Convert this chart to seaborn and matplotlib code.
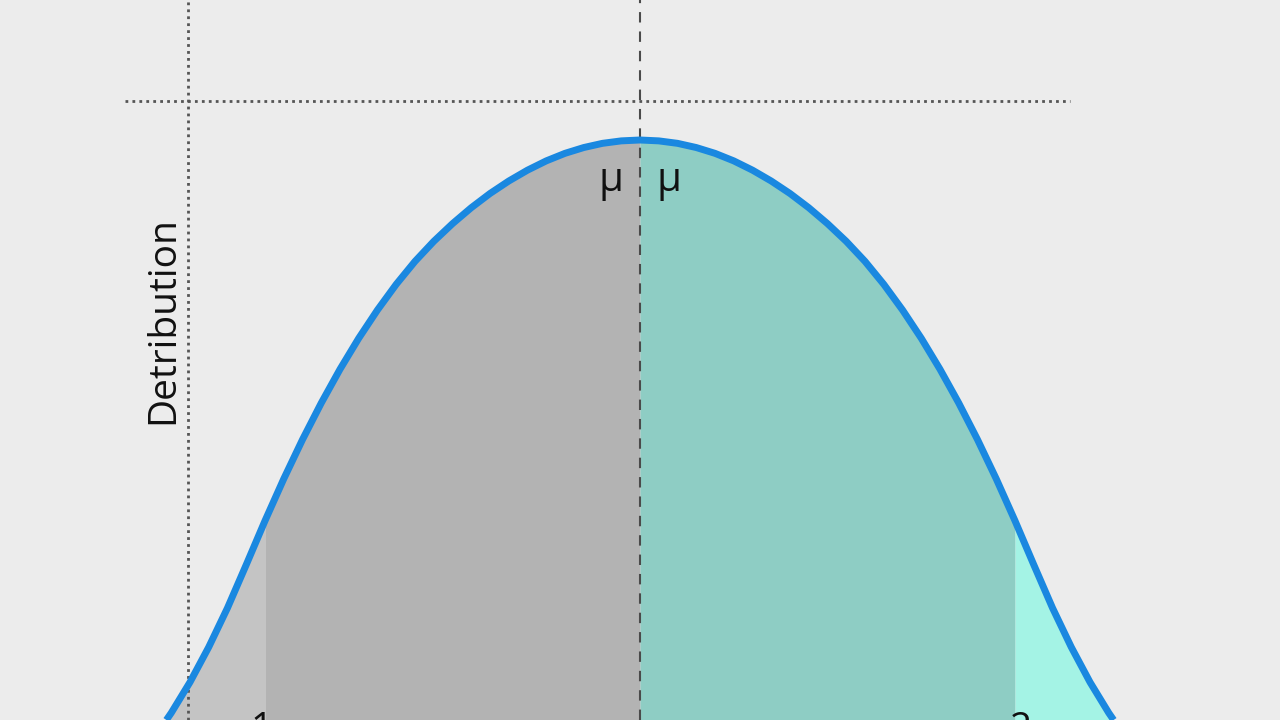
# -*- coding: utf-8 -*-
# bell curve with shaded tails, redrawn with seaborn

import matplotlib
matplotlib.use("Agg")
import matplotlib.pyplot as plt
import seaborn as sns
import numpy as np
import pandas as pd


# %% data
# ----------------------------
# half profile of the (symmetric) curve: distance from the mean in sigma
# units and the height of the curve there

offset = [0.00, 0.05, 0.10, 0.15, 0.20, 0.25, 0.30, 0.35, 0.40, 0.45,
          0.50, 0.55, 0.60, 0.65, 0.70, 0.75, 0.80, 0.85, 0.90, 0.95,
          1.00, 1.05, 1.10, 1.15, 1.20, 1.25, 1.263]
density = [0.4000, 0.3994, 0.3977, 0.3948, 0.3908, 0.3856, 0.3792, 0.3717,
           0.3631, 0.3533, 0.3423, 0.3301, 0.3163, 0.3005, 0.2828, 0.2633,
           0.2419, 0.2186, 0.1934, 0.1663, 0.1374, 0.1071, 0.0773, 0.0503,
           0.0261, 0.0049, 0.0000]

mean = 0.0
lower = -1.0
upper = 1.0
ref_x = -1.205      # dotted vertical guide
ref_y = 0.427       # dotted horizontal guide

axis_label = 'Detribution'
mean_label = 'μ'
bound_labels = ['1', '2']

off = np.array(offset)
dens = np.array(density)
df = pd.DataFrame({
    'x': np.concatenate([mean - off[::-1], mean + off[1:]]),
    'y': np.concatenate([dens[::-1], dens[1:]]),
})


# %% figure
# ---------

sns.set_theme(style='white')
plt.rcParams['font.family'] = ['Open Sans', 'DejaVu Sans']

bg = '#ececec'
fig = plt.figure(figsize=(12.8, 7.2), dpi=100, facecolor=bg)
ax = fig.add_axes([0, 0, 1, 1])
ax.set_facecolor(bg)

# shaded areas under the curve
regions = [
    (df.x <= lower, '#c4c4c4'),
    ((df.x >= lower) & (df.x <= mean), '#b3b3b3'),
    ((df.x >= mean) & (df.x <= upper), '#8ecdc4'),
    (df.x >= upper, '#a4f3e5'),
]
for mask, col in regions:
    part = df[mask]
    ax.fill_between(part.x, 0, part.y, color=col, linewidth=0, zorder=1)

# guides
ax.axvline(mean, color='#4a4a4a', linewidth=1.5, linestyle=(0, (5, 4.3)),
           zorder=2)
ax.axvline(ref_x, color='#555555', linewidth=2, linestyle=(0, (1, 1.5)),
           zorder=2)
ax.plot([-1.373, 1.147], [ref_y, ref_y], color='#555555', linewidth=2,
        linestyle=(0, (1, 1.5)), zorder=2)

# the curve
sns.lineplot(data=df, x='x', y='y', ax=ax, color='#1a88e0', linewidth=5,
             estimator=None, sort=False, zorder=3)
ax.lines[-1].set_solid_capstyle('butt')
ax.lines[-1].set_solid_joinstyle('round')

# texts
ax.text(-1.272, 0.276, axis_label, rotation=90, fontsize=28,
        ha='center', va='center', color='#111111')
ax.text(-0.077, 0.372, mean_label, fontsize=29, ha='center', va='center',
        color='#111111', zorder=4)
ax.text(0.077, 0.372, mean_label, fontsize=29, ha='center', va='center',
        color='#111111', zorder=4)
ax.text(lower - 0.01, 0.006, bound_labels[0], fontsize=28, ha='center',
        va='top', color='#111111', zorder=4)
ax.text(upper + 0.013, 0.006, bound_labels[1], fontsize=28, ha='center',
        va='top', color='#111111', zorder=4)

ax.set_xlim(-640 / 375, 640 / 375)
ax.set_ylim(0, 720 / 1450)
ax.set_axis_off()

fig.savefig('out.png', dpi=100, facecolor=bg)
